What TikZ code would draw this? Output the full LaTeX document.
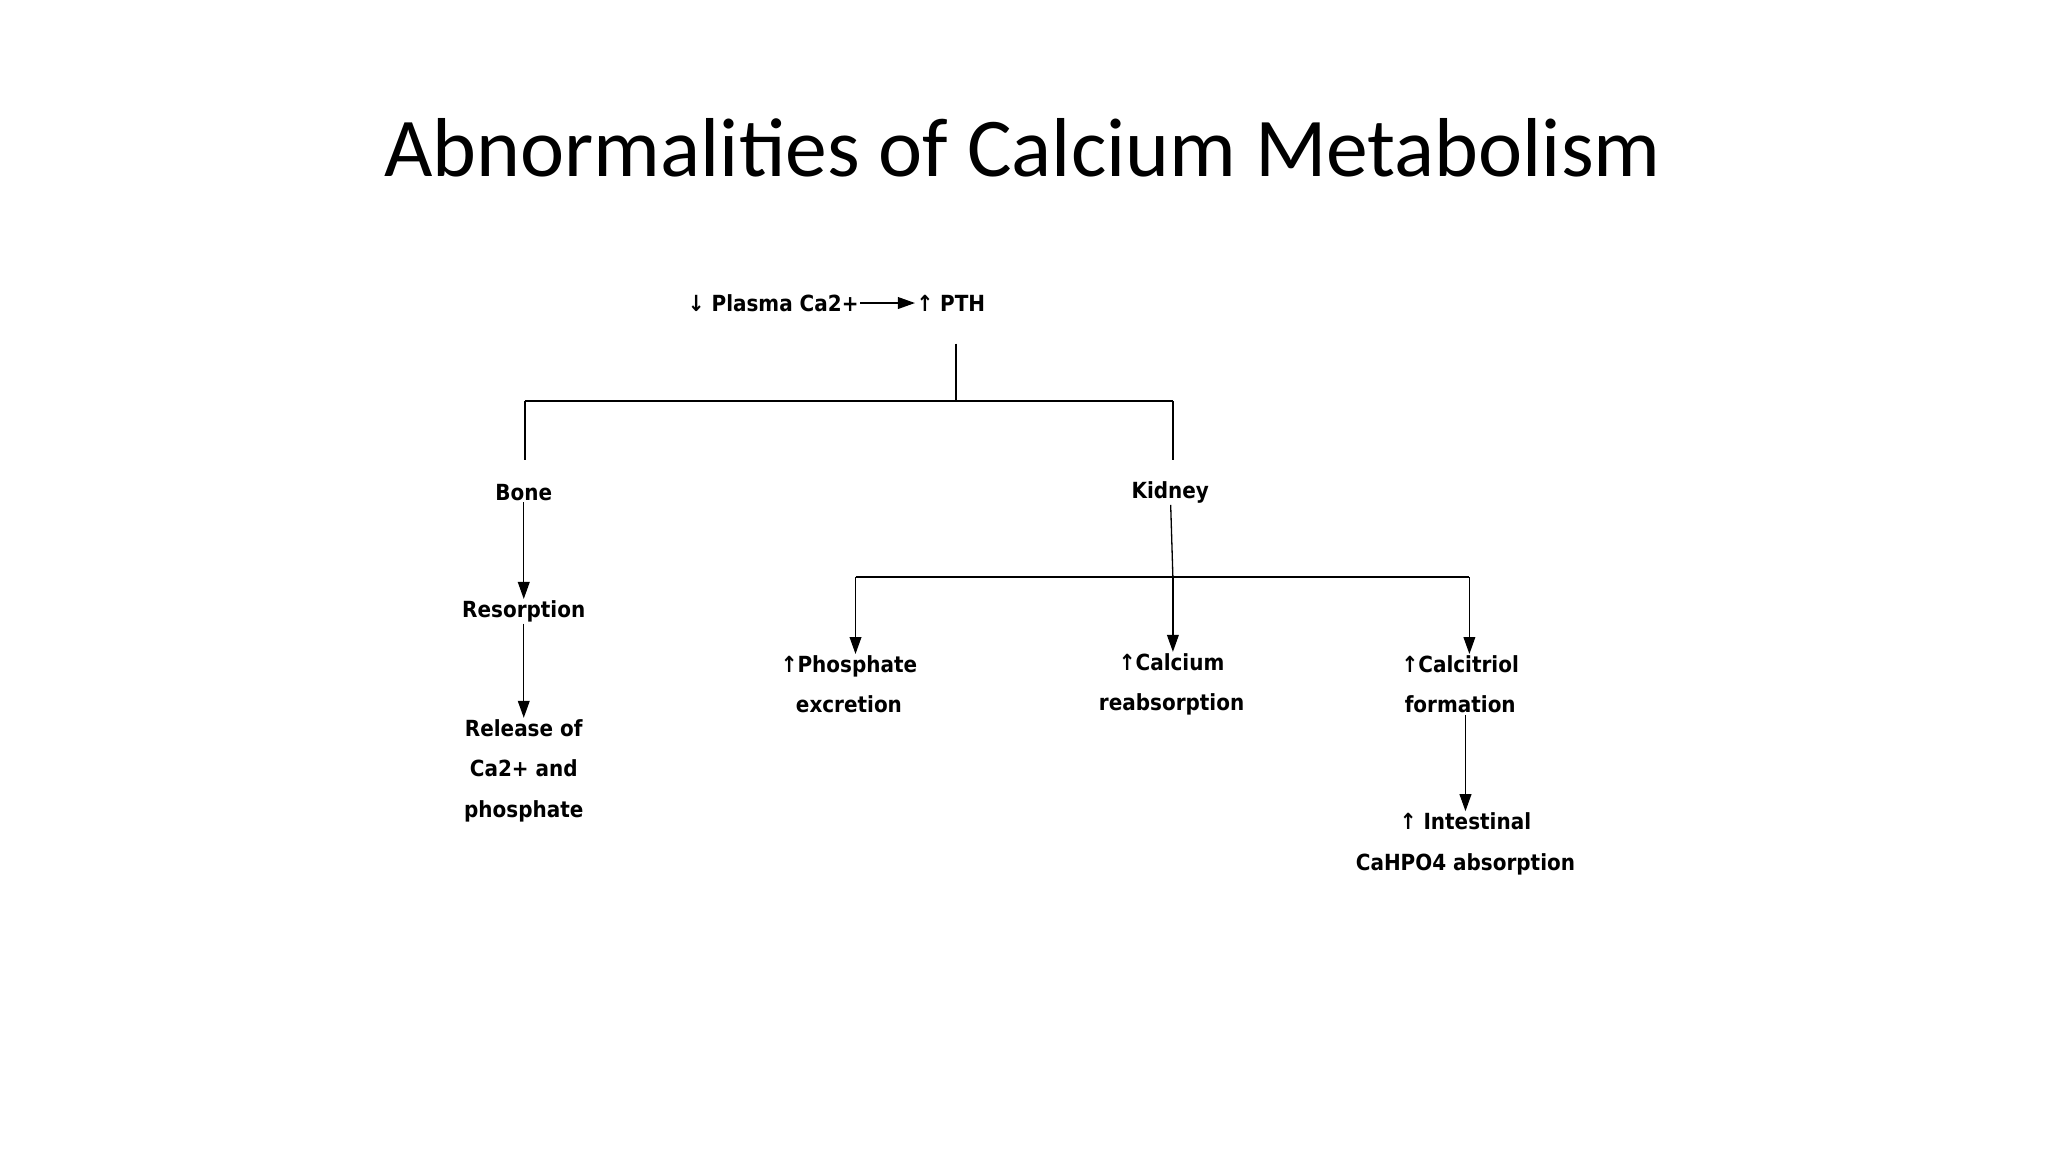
\documentclass[tikz,border=0pt]{standalone}
\usepackage{fontspec}
\setmainfont{Carlito}
\newfontfamily\diagfont{DejaVu Sans Condensed}
\usetikzlibrary{arrows.meta}
\tikzset{
  lbl/.style={font=\diagfont\bfseries\fontsize{17}{31}\selectfont, align=center, inner sep=1pt},
  flow/.style={-{Triangle[width=9pt,length=13pt]}, line width=1pt},
  tree/.style={line width=1.6pt}
}
\begin{document}
\begin{tikzpicture}[x=1pt,y=-1pt]
    \useasboundingbox (0,0) rectangle (1568,882);
    \node[font=\fontsize{64}{70}\selectfont] (title) at (783,113) {Abnormalities of Calcium Metabolism};
    % top cause
    \node[lbl] (ca) at (592,232) {↓ Plasma Ca2+};
    \node[lbl] (pth) at (728,232) {↑ PTH};
    \draw[flow] (ca) -- (pth);
    \coordinate (split) at (732,307);
    \coordinate (bl) at (402,307);
    \coordinate (kr) at (898,307);
    \draw[tree, line width=1pt] (732,263) -- (split);
    \draw[tree] (bl) -- (kr);
    \draw[tree, line width=1pt] (bl) -- (402,352);
    \draw[tree, line width=1pt] (kr) -- (898,352);
    % bone branch
    \node[lbl] (bone) at (401,377) {Bone};
    \node[lbl] (res) at (401,468) {Resorption};
    \node[lbl] (rel) at (401,590) {Release of\\Ca2+ and\\phosphate};
    \draw[flow] (bone) -- (res);
    \draw[flow] (res) -- (rel);
    % kidney branch
    \node[lbl] (kid) at (896,377) {Kidney};
    \node[lbl] (pho) at (650,524) {↑Phosphate\\excretion};
    \node[lbl] (cal) at (897,524) {↑Calcium\\reabsorption};
    \node[lbl] (ctr) at (1118,524) {↑Calcitriol\\formation};
    \node[lbl] (int) at (1122,646) {↑ Intestinal\\CaHPO4 absorption};
    \coordinate (kl) at (655,442);
    \coordinate (km) at (898,442);
    \coordinate (kq) at (1125,442);
    \draw[line width=1pt] (kid) -- (km);
    \draw[tree] (kl) -- (kq);
    \draw[flow] (kl) -- (pho.north -| kl);
    \draw[flow] (km) -- (cal.north -| km);
    \draw[flow] (kq) -- (ctr.north -| kq);
    \draw[flow] (ctr.south -| int) -- (int);
\end{tikzpicture}
\end{document}
